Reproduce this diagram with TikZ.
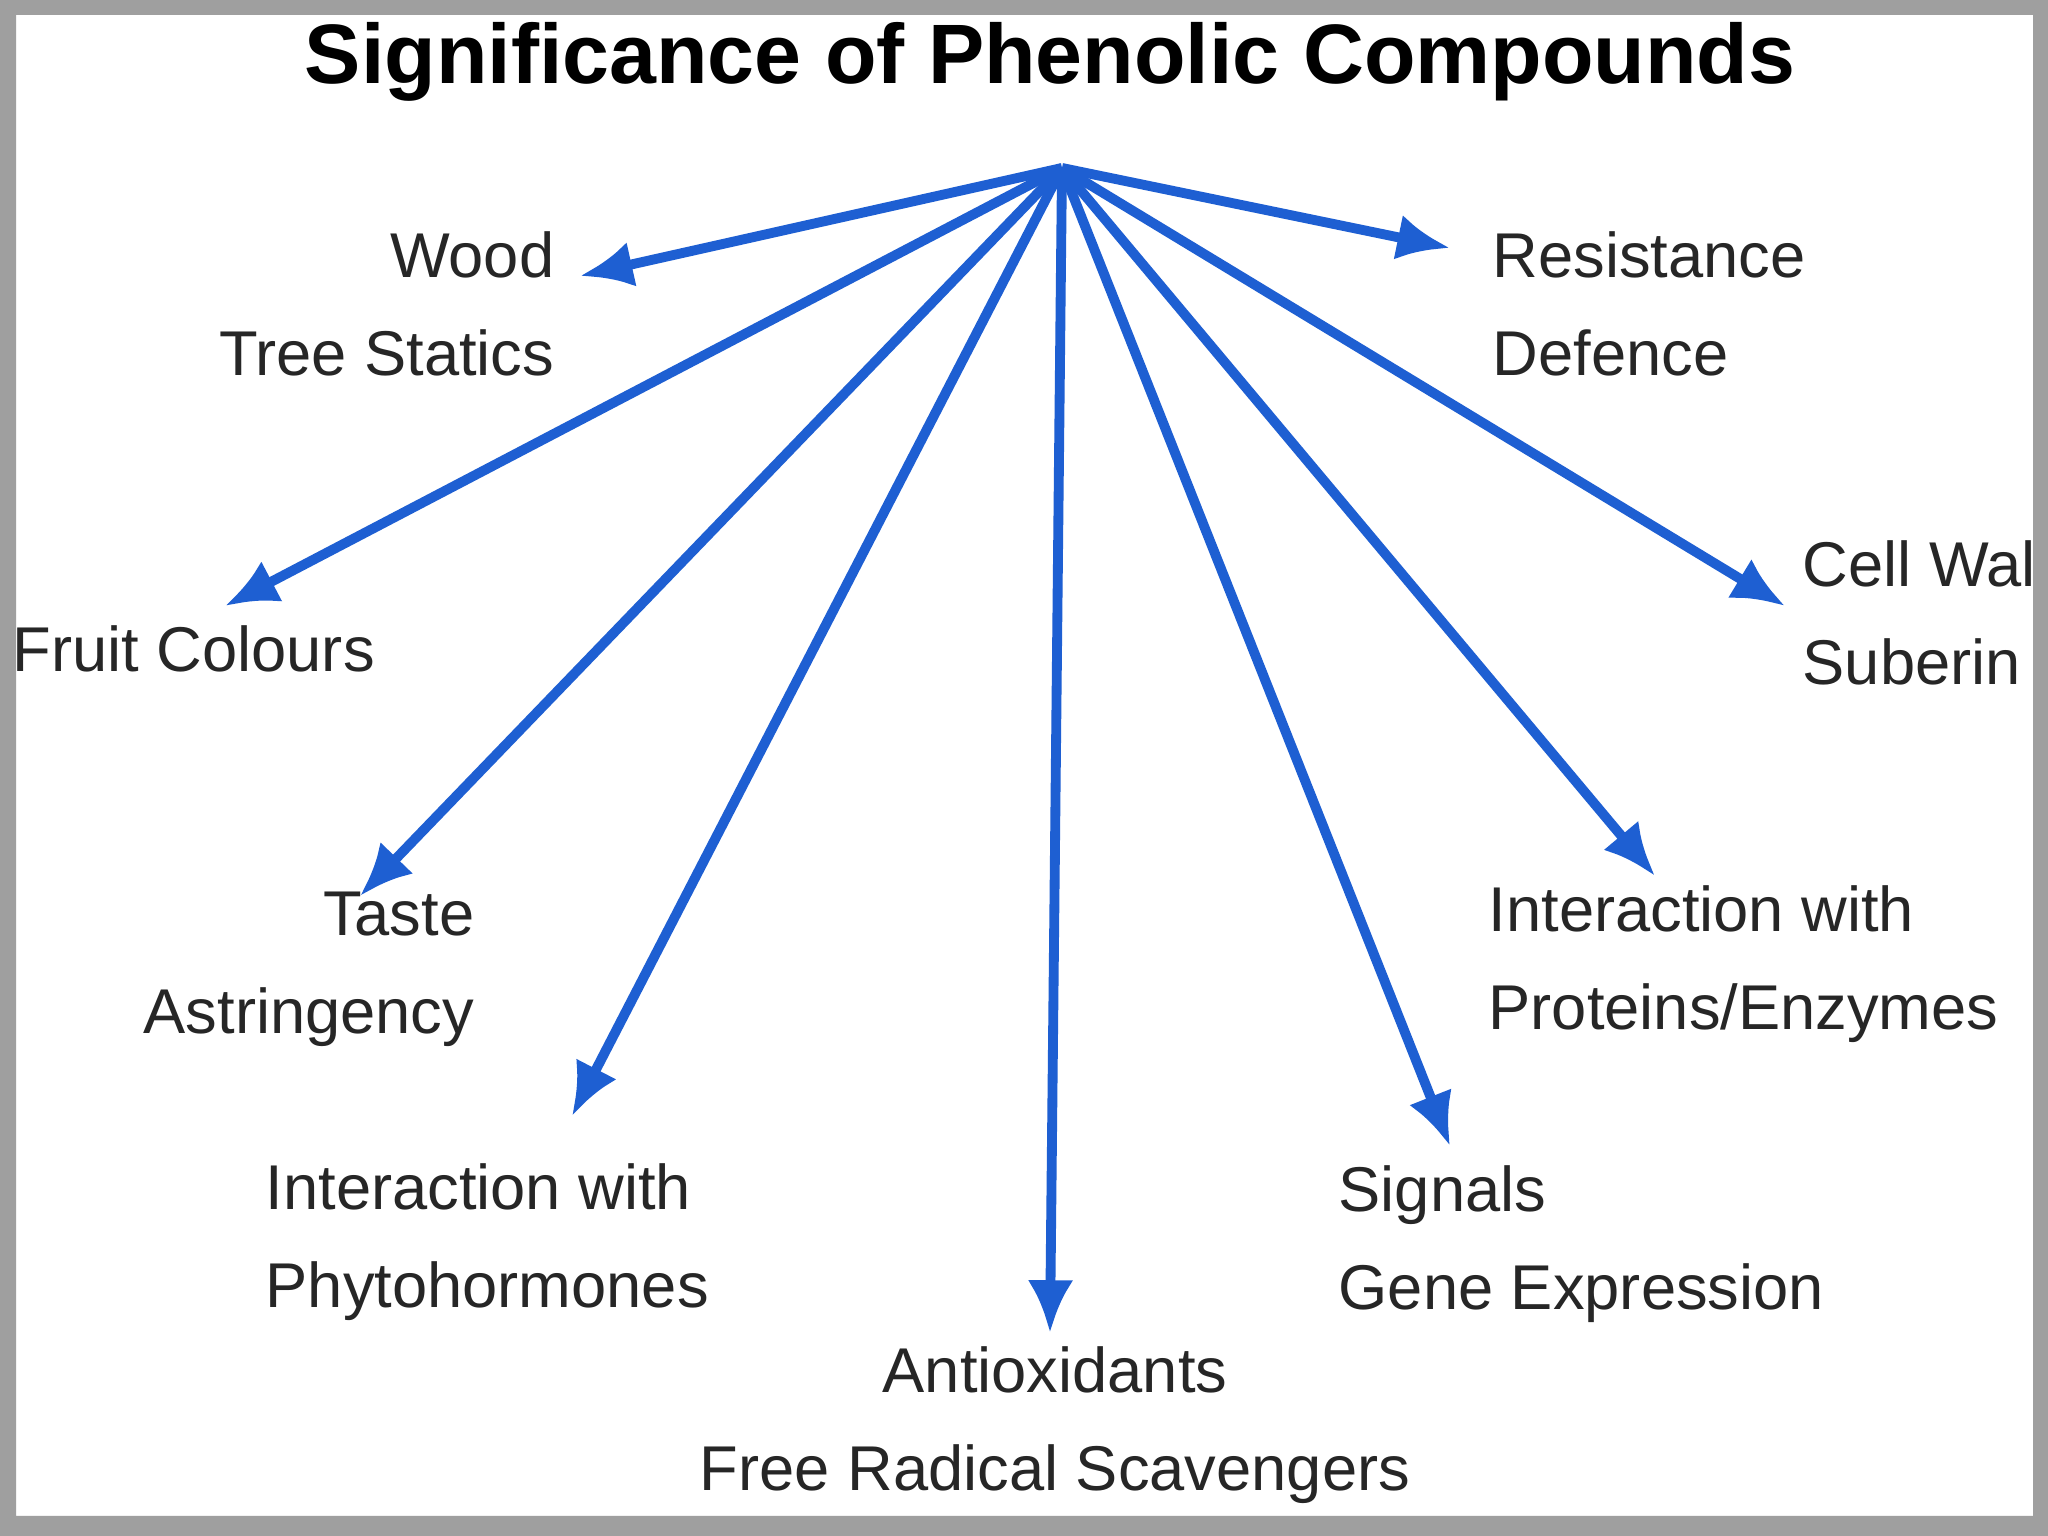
\documentclass[tikz,border=0pt]{standalone}
\usepackage{fontspec}
\setmainfont{Liberation Sans}
\usetikzlibrary{arrows.meta}
\definecolor{arrowblue}{RGB}{30,95,210}
\tikzset{
  label/.style={inner sep=0pt,font=\fontsize{18}{28}\selectfont,text=black!85},
  spoke/.style={arrowblue,line width=2.8pt,-{Latex[length=15pt,width=13pt]}}
}
\begin{document}
\begin{tikzpicture}
    \useasboundingbox (0,0) rectangle (20.48,15.36);
    \fill[white] (0,0) rectangle (20.48,15.36);

    % titolo
    \node[inner sep=0pt,font=\fontsize{24}{28}\selectfont\bfseries] (title) at (10.5,14.74) {Significance of Phenolic Compounds};

    % centro e punte
    \coordinate (hub) at (10.62,13.68);
    \coordinate (woodtip) at (5.8,12.6);
    \coordinate (fruittip) at (2.25,9.3);
    \coordinate (tastetip) at (3.6,6.4);
    \coordinate (phytotip) at (5.72,4.2);
    \coordinate (antitip) at (10.5,2.03);
    \coordinate (signaltip) at (14.5,3.9);
    \coordinate (proteintip) at (16.55,6.6);
    \coordinate (celltip) at (17.85,9.3);
    \coordinate (resisttip) at (14.5,12.88);

    % etichette
    \node[label,align=right,anchor=north east] (wood) at (5.55,13.05) {Wood\\Tree Statics};
    \node[label,anchor=north west] (fruit) at (0.12,9.11) {Fruit Colours};
    \node[label,align=right,anchor=north east] (taste) at (4.75,6.45) {Taste\\Astringency};
    \node[label,align=left,anchor=north west] (phyto) at (2.65,3.73) {Interaction with\\Phytohormones};
    \node[label,align=center,anchor=north] (anti) at (10.55,1.9) {Antioxidants\\Free Radical Scavengers};
    \node[label,align=left,anchor=north west] (signal) at (13.38,3.71) {Signals\\Gene Expression};
    \node[label,align=left,anchor=north west] (protein) at (14.88,6.51) {Interaction with\\Proteins/Enzymes};
    \node[label,align=left,anchor=north west] (cell) at (18.02,9.96) {Cell Wall\\Suberin};
    \node[label,align=left,anchor=north west] (resist) at (14.92,13.05) {Resistance\\Defence};

    % frecce
    \foreach \t in {woodtip,fruittip,tastetip,phytotip,antitip,signaltip,proteintip,celltip,resisttip}
        \draw[spoke] (hub) -- (\t);

    % cornice
    \fill[gray!75,even odd rule] (0,0) rectangle (20.48,15.36) (0.16,0.2) rectangle (20.33,15.21);
\end{tikzpicture}
\end{document}
